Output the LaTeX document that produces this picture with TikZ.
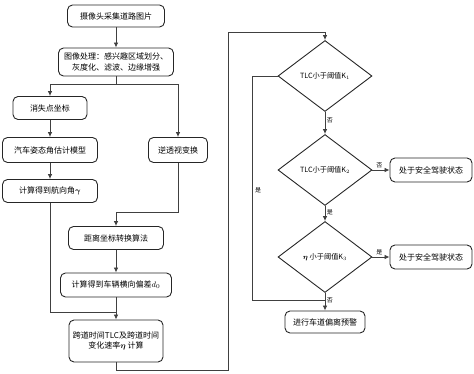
\documentclass[tikz,border=0pt]{standalone}
\usepackage{amsmath,amssymb,bm}
\usepackage{fontspec}
\setmainfont{Noto Sans CJK SC}
\usetikzlibrary{shapes.geometric,arrows.meta}
\begin{document}
\begin{tikzpicture}[x=1pt,y=-1pt,
  box/.style={draw=black!85, line width=0.9pt, rounded corners=5pt, align=center,
    font=\fontsize{8}{10.5}\selectfont, inner sep=0pt},
  dia/.style={draw=black!85, line width=0.9pt, diamond, aspect=1.3, inner sep=0pt,
    minimum width=94pt, minimum height=71pt, font=\fontsize{7.2}{9}\selectfont},
  arr/.style={draw=black!75, line width=0.8pt, -{Latex[length=5pt,width=4.5pt]}},
  ln/.style={draw=black!75, line width=0.8pt},
  lab/.style={font=\fontsize{6}{7}\selectfont, inner sep=1.5pt}]
\useasboundingbox (0,0) rectangle (474,374);
% left column
\node[box, minimum width=97pt, minimum height=22pt] (n1) at (116,16) {摄像头采集道路图片};
\node[box, minimum width=115pt, minimum height=28pt] (n2) at (116,62) {图像处理：感兴趣区域划分、\\灰度化、滤波、边缘增强};
\node[box, minimum width=74pt, minimum height=23pt] (n3) at (50,108) {消失点坐标};
\node[box, minimum width=95pt, minimum height=25pt] (n4) at (50,150) {汽车姿态角估计模型};
\node[box, minimum width=59pt, minimum height=25pt] (n5) at (178,150) {逆透视变换};
\node[box, minimum width=95pt, minimum height=23pt] (n6) at (50,191) {计算得到航向角$\bm{\gamma}$};
\node[box, minimum width=95pt, minimum height=23pt] (n7) at (116,238) {距离坐标转换算法};
\node[box, minimum width=111pt, minimum height=24pt] (n8) at (116,285) {计算得到车辆横向偏差$d_0$};
\node[box, minimum width=94pt, minimum height=42pt] (n9) at (116,341) {跨道时间TLC及跨道时间\\变化速率$\bm{\eta}$ 计算};
% right column
\node[dia] (d1) at (325,76) {TLC小于阈值K$_1$};
\node[dia] (d2) at (325,170) {TLC小于阈值K$_2$};
\node[dia] (d3) at (325,257) {$\bm{\eta}$ 小于阈值K$_3$};
\node[box, minimum width=82pt, minimum height=24pt] (s1) at (431,170) {处于安全驾驶状态};
\node[box, minimum width=82pt, minimum height=24pt] (s2) at (431,257) {处于安全驾驶状态};
\node[box, minimum width=80pt, minimum height=22pt] (n10) at (325,322) {进行车道偏离预警};
% helper coordinates
\coordinate (f1) at (116,84);
\coordinate (j1) at (116,212);
\coordinate (j2) at (116,312);
\coordinate (c1) at (228,370);
\coordinate (c2) at (228,32);
\coordinate (c4) at (252,300);
\coordinate (c6) at (325,300);
% connectors
\draw[arr] (n1) -- (n2);
\draw[ln] (n2.south) -- (f1);
\draw[arr] (f1) -| (n3.north);
\draw[arr] (f1) -| (n5.north);
\draw[arr] (n3) -- (n4);
\draw[arr] (n4) -- (n6);
\draw[arr] (n5.south) |- (j1) -- (n7.north);
\draw[arr] (n7) -- (n8);
\draw[arr] (n8) -- (n9);
\draw[ln] (n6.south) |- (j2);
\draw[arr] (n9.south) |- (c1) -- (c2) -| (d1.north);
\draw[arr] (d1.south) -- node[lab, right, pos=0.4] {否} (d2.north);
\draw[arr] (d2.east) -- node[lab, above, pos=0.4] {否} (s1.west);
\draw[arr] (d2.south) -- node[lab, right, pos=0.4] {是} (d3.north);
\draw[arr] (d3.east) -- node[lab, above, pos=0.4] {是} (s2.west);
\draw[arr] (d3.south) -- node[lab, right, pos=0.45] {否} (n10.north);
\draw[ln] (d1.west) -| (c4) -- (c6);
\node[lab] (y1) at (258,190) {是};
\end{tikzpicture}
\end{document}
